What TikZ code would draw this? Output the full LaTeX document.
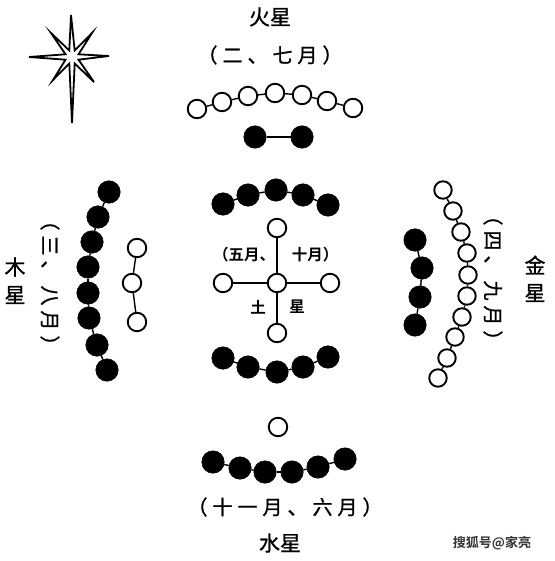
\documentclass[tikz,border=0pt]{standalone}
\usepackage{fontspec}
\newfontfamily\cjk[FakeBold=1]{Noto Sans CJK SC}
\newfontfamily\cjkb{Noto Sans CJK SC Bold}
\newcommand{\gp}{\hspace{5pt}}
\begin{document}
\begin{tikzpicture}[x=1pt,y=-1pt,
  opn/.style={circle,draw=black,line width=1.9pt,fill=white,minimum size=18.5pt,inner sep=0pt},
  opns/.style={opn,minimum size=17.5pt},
  fil/.style={circle,fill=black,draw=black,line width=0.5pt,minimum size=22.5pt,inner sep=0pt},
  link/.style={line width=1.4pt},
  big/.style={font=\cjk\fontsize{21}{21}\selectfont,inner sep=0pt},
  lab/.style={font=\cjk\fontsize{20}{20}\selectfont,inner sep=0pt},
  sat/.style={font=\cjkb\fontsize{15.5}{15.5}\selectfont,inner sep=0pt}]
\useasboundingbox (0,0) rectangle (554,561);
\fill[white] (0,0) rectangle (554,561);

% star
\draw[line width=1.8pt,line join=miter,fill=white]
  (71,15) -- (74.7,50.5) -- (92,33) -- (78.5,54.3) -- (109,56) -- (78.5,59.7)
  -- (94,82) -- (74.7,63.5) -- (72,123) -- (69.3,63.5) -- (53,80) -- (65.5,59.7)
  -- (29,57) -- (65.5,54.3) -- (51,33) -- (69.3,50.5) -- cycle;

% Mars
\node[big] (marsname) at (270,17) {火星};
\node[lab] (marslab) at (270,55) {（\gp 二\gp 、\gp 七\gp 月\gp ）};
\foreach \i/\x/\y in {1/197/109,2/222/102,3/248/96,4/275/93,5/302/95,6/327/101,7/353/108}
  \node[opn] (m\i) at (\x,\y) {};
\foreach \a/\b in {1/2,2/3,3/4,4/5,5/6,6/7} \draw[link] (m\a) -- (m\b);
\node[fil] (mf1) at (255,137) {};
\node[fil] (mf2) at (302,137) {};
\draw[link] (mf1) -- (mf2);

% Saturn
\foreach \i/\x/\y in {1/223/204,2/248/195,3/276/190,4/303/195,5/328/205}
  \node[fil] (st\i) at (\x,\y) {};
\foreach \a/\b in {1/2,2/3,3/4,4/5} \draw[link] (st\a) -- (st\b);
\node[opn] (sc) at (277,283) {};
\node[opn] (sn) at (277,228) {};
\node[opn] (sw) at (223,283) {};
\node[opn] (se) at (330,283) {};
\node[opn] (ss) at (277,333) {};
\foreach \o in {sn,sw,se,ss} \draw[link] (sc) -- (\o);
\node[sat] (satl) at (244,255) {（五月、};
\node[sat] (satr) at (315,255) {十月）};
\node[sat] (sat1) at (258,307) {土};
\node[sat] (sat2) at (297,307) {星};
\foreach \i/\x/\y in {1/223/358,2/248/367,3/277/372,4/303/367,5/328/357}
  \node[fil] (sb\i) at (\x,\y) {};
\foreach \a/\b in {1/2,2/3,3/4,4/5} \draw[link] (sb\a) -- (sb\b);

% Mercury
\node[opn] (me0) at (278,427) {};
\foreach \i/\x/\y in {1/213/462,2/240/468,3/265/472,4/292/472,5/318/467,6/345/459}
  \node[fil] (me\i) at (\x,\y) {};
\foreach \a/\b in {1/2,2/3,3/4,4/5,5/6} \draw[link] (me\a) -- (me\b);
\node[lab] (merlab) at (285,507) {（\gp 十\gp 一\gp 月\gp 、\gp 六\gp 月\gp ）};
\node[big] (mername) at (280,543) {水星};

% Jupiter
\foreach \i/\x/\y in {1/109/192,2/98/217,3/92/242,4/88/267,5/88/293,6/89/318,7/97/345,8/107/370}
  \node[fil] (j\i) at (\x,\y) {};
\foreach \a/\b in {1/2,2/3,3/4,4/5,5/6,6/7,7/8} \draw[link] (j\a) -- (j\b);
\foreach \i/\x/\y in {1/137/248,2/132/283,3/137/322}
  \node[opn] (jo\i) at (\x,\y) {};
\draw[link] (jo1) -- (jo2); \draw[link] (jo2) -- (jo3);
\node[lab,rotate=-90] (juplab) at (50,283) {（\gp 三\gp 、\gp 八\gp 月\gp ）};
\node[big] (jup1) at (15,267) {木};
\node[big] (jup2) at (15,295) {星};

% Venus
\foreach \i/\x/\y in {1/443/190,2/453/211,3/461/232,4/467/253,5/468/275,6/467/296,7/462/317,8/455/337,9/447/358,10/438/378}
  \node[opns] (v\i) at (\x,\y) {};
\foreach \a/\b in {1/2,2/3,3/4,4/5,5/6,6/7,7/8,8/9,9/10} \draw[link] (v\a) -- (v\b);
\foreach \i/\x/\y in {1/415/240,2/422/268,3/420/297,4/415/325}
  \node[fil] (vf\i) at (\x,\y) {};
\foreach \a/\b in {1/2,2/3,3/4} \draw[link] (vf\a) -- (vf\b);
\node[lab,rotate=-90] (venlab) at (493,278) {（\gp 四\gp 、\gp 九\gp 月\gp ）};
\node[big] (ven1) at (535,265) {金};
\node[big] (ven2) at (535,293) {星};

% watermark
\node[font=\cjkb\fontsize{13}{13}\selectfont,inner sep=0pt,text=black!80] (wm) at (492,543) {搜狐号@家亮};
\end{tikzpicture}
\end{document}
